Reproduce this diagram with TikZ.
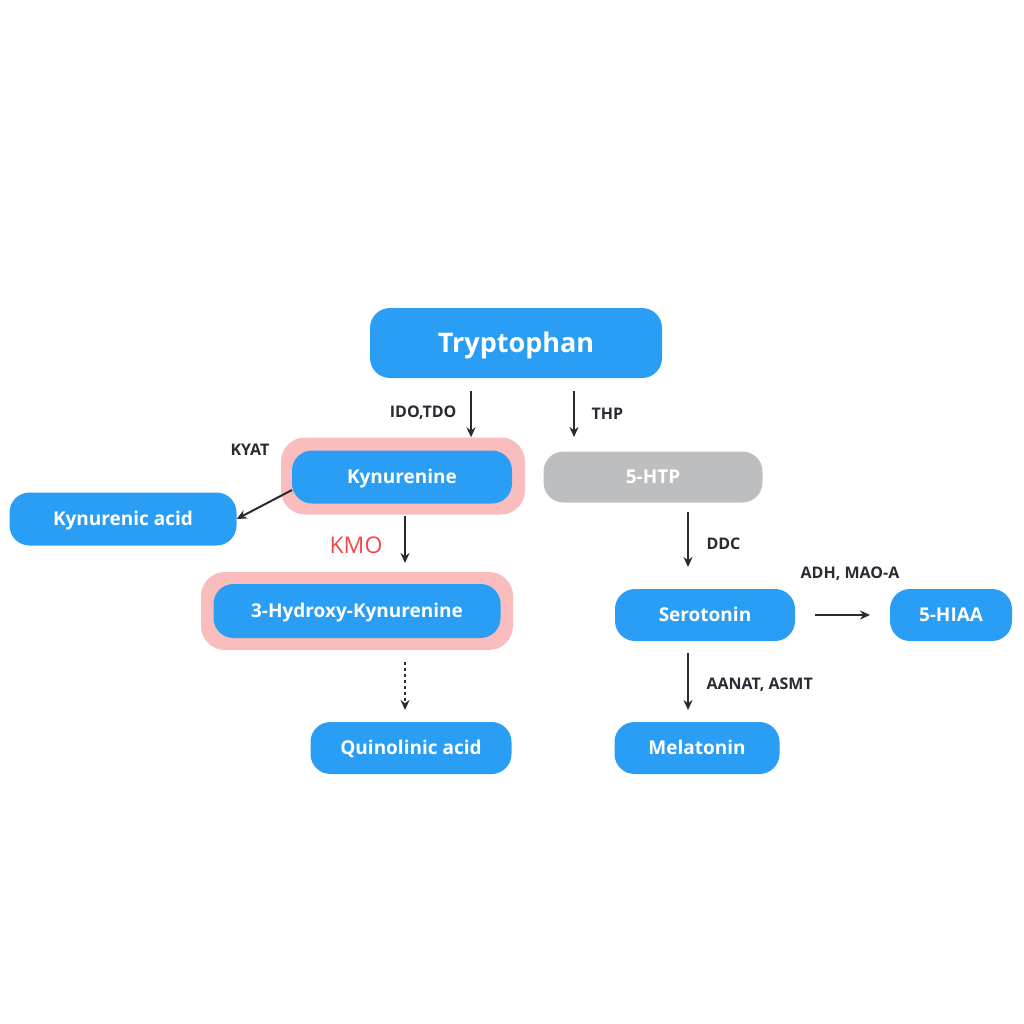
\documentclass[tikz,border=0pt]{standalone}
\usepackage{fontspec}
\setmainfont{Open Sans}
\usetikzlibrary{arrows.meta}
\definecolor{bl}{HTML}{2A9DF4}
\definecolor{pk}{HTML}{F9BDBD}
\definecolor{gr}{HTML}{BCBEC0}
\definecolor{dk}{HTML}{2A2A33}
\definecolor{kr}{HTML}{F04848}
\begin{document}
\begin{tikzpicture}[x=1pt,y=-1pt,
  box/.style={fill=bl,text=white,rounded corners=20pt,font=\fontsize{19}{19}\selectfont\bfseries,inner sep=0pt,text depth=1pt},
  hl/.style={fill=pk,rounded corners=24pt,inner sep=0pt},
  lab/.style={text=dk,font=\fontsize{16}{16}\selectfont\bfseries},
  ar/.style={draw=dk,line width=2pt,-{Stealth[length=10pt,width=9pt]}}]
\useasboundingbox (0,0) rectangle (1024,1024);
\node[box,minimum width=292pt,minimum height=70pt,font=\fontsize{27}{27}\selectfont\bfseries] (try) at (516,343) {Tryptophan};
\node[hl,minimum width=244pt,minimum height=77pt] (kynh) at (403,476) {};
\node[box,minimum width=220pt,minimum height=53pt] (kyn) at (402,477) {Kynurenine};
\node[box,fill=gr,minimum width=219pt,minimum height=51pt] (htp) at (653,477) {5-HTP};
\node[box,minimum width=227pt,minimum height=53pt] (kya) at (123,519) {Kynurenic acid};
\node[hl,minimum width=312pt,minimum height=78pt] (hkh) at (357,611) {};
\node[box,minimum width=287pt,minimum height=54pt] (hk) at (357,611) {3-Hydroxy-Kynurenine};
\node[box,minimum width=180pt,minimum height=52pt] (ser) at (705,615) {Serotonin};
\node[box,minimum width=122pt,minimum height=52pt] (hiaa) at (951,615) {5-HIAA};
\node[box,minimum width=201pt,minimum height=52pt] (qa) at (411,748) {Quinolinic acid};
\node[box,minimum width=165pt,minimum height=52pt] (mel) at (697,748) {Melatonin};
\coordinate (a1) at (471,391); \coordinate (a2) at (574,391);
\draw[ar] (a1) -- (a1 |- kynh.north);
\draw[ar] (a2) -- (574,437);
\draw[ar] (292,490) -- (kya.east);
\draw[ar] (405,516) -- (405,563);
\draw[ar,dashed] (405,662) -- (405,710);
\draw[ar] (688,512) -- (688,567);
\draw[ar] (815,615) -- (870,615);
\draw[ar] (688,653) -- (688,710);
\node[lab,anchor=east] (l1) at (460,413) {IDO,TDO};
\node[lab,anchor=west] (l2) at (588,414) {THP};
\node[lab] (l3) at (250,450) {KYAT};
\node[text=kr,font=\fontsize{23}{23}\selectfont] (l4) at (356,545) {KMO};
\node[lab,anchor=west] (l5) at (703,544) {DDC};
\node[lab] (l6) at (850,574) {ADH, MAO-A};
\node[lab,anchor=west] (l7) at (703,685) {AANAT, ASMT};
\end{tikzpicture}
\end{document}
